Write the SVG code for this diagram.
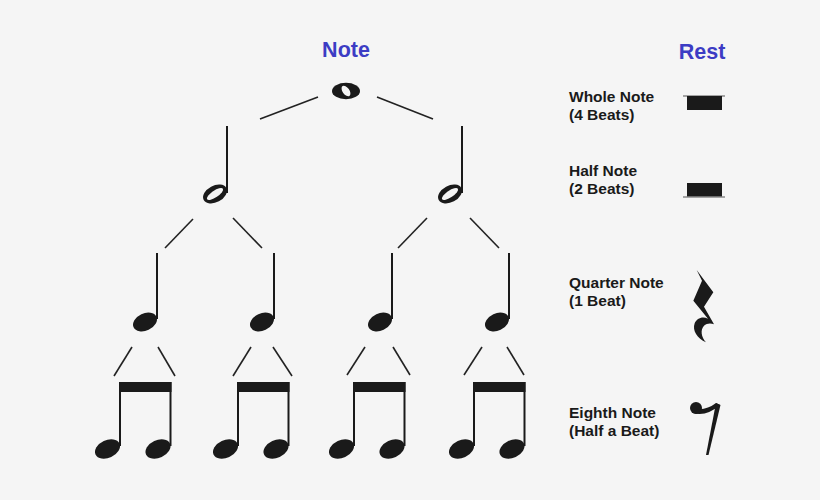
<svg xmlns="http://www.w3.org/2000/svg" xmlns:xlink="http://www.w3.org/1999/xlink" width="820" height="500" viewBox="0 0 820 500">
<style>
.conn{stroke:#222;stroke-width:1.6;fill:none}
.stem{stroke:#1a1a1a;stroke-width:2}
.ink{fill:#1a1a1a}
.hole{fill:#f5f5f5}
.lbl{font-family:"Liberation Sans",Arial,sans-serif;font-weight:bold;font-size:15.5px;fill:#1a1a1a}
.hdr{font-family:"Liberation Sans",Arial,sans-serif;font-weight:bold;font-size:21.5px;fill:#3c3cc4}
.rline{stroke:#888;stroke-width:1.5}
</style>
<defs>
<g id="half">
<line class="stem" x1="0" y1="0" x2="0" y2="67"/>
<g transform="translate(-12,68) rotate(-28)">
<ellipse class="ink" rx="12.8" ry="8.3"/>
<ellipse class="hole" rx="9.5" ry="3.4" transform="rotate(-6)"/>
</g>
</g>
<g id="quarter">
<line class="stem" x1="0" y1="0" x2="0" y2="66"/>
<ellipse class="ink" rx="12.6" ry="8.6" transform="translate(-12,69) rotate(-25)"/>
</g>
<g id="pair">
<rect class="ink" x="0" y="0" width="52.5" height="10"/>
<line class="stem" x1="1" y1="0" x2="1" y2="64"/>
<line class="stem" x1="51.5" y1="0" x2="51.5" y2="64"/>
<ellipse class="ink" rx="13.2" ry="8.8" transform="translate(-11.5,67) rotate(-25)"/>
<ellipse class="ink" rx="13.2" ry="8.8" transform="translate(39,67) rotate(-25)"/>
</g>
</defs>
<rect width="820" height="500" fill="#f5f5f5"/>

<text class="hdr" x="346" y="57" text-anchor="middle">Note</text>
<text class="hdr" x="702" y="59" text-anchor="middle">Rest</text>

<g id="connectors">
<line class="conn" x1="318" y1="97" x2="260" y2="119"/>
<line class="conn" x1="377" y1="97" x2="433" y2="119"/>
<line class="conn" x1="193" y1="219" x2="165" y2="248"/>
<line class="conn" x1="233" y1="218" x2="262" y2="248"/>
<line class="conn" x1="427" y1="218" x2="398" y2="248"/>
<line class="conn" x1="470" y1="218" x2="499" y2="248"/>
<line class="conn" x1="132" y1="347" x2="114" y2="376"/>
<line class="conn" x1="158" y1="347" x2="175" y2="376"/>
<line class="conn" x1="251" y1="347" x2="233" y2="376"/>
<line class="conn" x1="273" y1="347" x2="292" y2="376"/>
<line class="conn" x1="365" y1="347" x2="347" y2="375"/>
<line class="conn" x1="393" y1="347" x2="410" y2="375"/>
<line class="conn" x1="482" y1="347" x2="464" y2="375"/>
<line class="conn" x1="507" y1="347" x2="524" y2="375"/>
</g>

<g id="whole-note">
<ellipse class="ink" cx="346" cy="91" rx="14" ry="8.3"/>
<ellipse class="hole" cx="346" cy="91" rx="3.4" ry="6" transform="rotate(-35 346 91)"/>
</g>

<g id="half-note-1"><use xlink:href="#half" href="#half" transform="translate(227,126)"/></g>
<g id="half-note-2"><use xlink:href="#half" href="#half" transform="translate(462,126)"/></g>

<g id="quarter-note-1"><use xlink:href="#quarter" href="#quarter" transform="translate(157,253)"/></g>
<g id="quarter-note-2"><use xlink:href="#quarter" href="#quarter" transform="translate(274,253)"/></g>
<g id="quarter-note-3"><use xlink:href="#quarter" href="#quarter" transform="translate(392,253)"/></g>
<g id="quarter-note-4"><use xlink:href="#quarter" href="#quarter" transform="translate(509,253)"/></g>

<g id="eighth-pair-1"><use xlink:href="#pair" href="#pair" transform="translate(119,382)"/></g>
<g id="eighth-pair-2"><use xlink:href="#pair" href="#pair" transform="translate(237,382)"/></g>
<g id="eighth-pair-3"><use xlink:href="#pair" href="#pair" transform="translate(353,382)"/></g>
<g id="eighth-pair-4"><use xlink:href="#pair" href="#pair" transform="translate(473,382)"/></g>

<g id="whole-rest">
<text class="lbl" x="569" y="102">Whole Note</text>
<text class="lbl" x="569" y="120">(4 Beats)</text>
<line class="rline" x1="683" y1="96" x2="725" y2="96"/>
<rect class="ink" x="687" y="96" width="35" height="14"/>
</g>

<g id="half-rest">
<text class="lbl" x="569" y="176">Half Note</text>
<text class="lbl" x="569" y="194">(2 Beats)</text>
<rect class="ink" x="687" y="183" width="35" height="14"/>
<line class="rline" x1="683" y1="197" x2="725" y2="197"/>
</g>

<g id="quarter-rest">
<text class="lbl" x="569" y="288">Quarter Note</text>
<text class="lbl" x="569" y="306">(1 Beat)</text>
<path class="ink" transform="translate(680,260) scale(0.3333)" d="M50,30 L100,97 L72,140 L102,193 C92,189 80,190 72,197 C61,209 63,230 78,247 C52,236 36,212 44,190 C50,176 66,168 84,176 L40,122 L66,62 Z"/>
</g>

<g id="eighth-rest">
<text class="lbl" x="569" y="418">Eighth Note</text>
<text class="lbl" x="569" y="436">(Half a Beat)</text>
<circle class="ink" cx="696" cy="408" r="6"/>
<path class="ink" d="M693,413 Q706,417 720,405 L716,403 Q707,410 697,409 Z"/>
<path class="ink" d="M716,403 L720.5,405 L708.5,455 L706,455 Z"/>
</g>
</svg>
